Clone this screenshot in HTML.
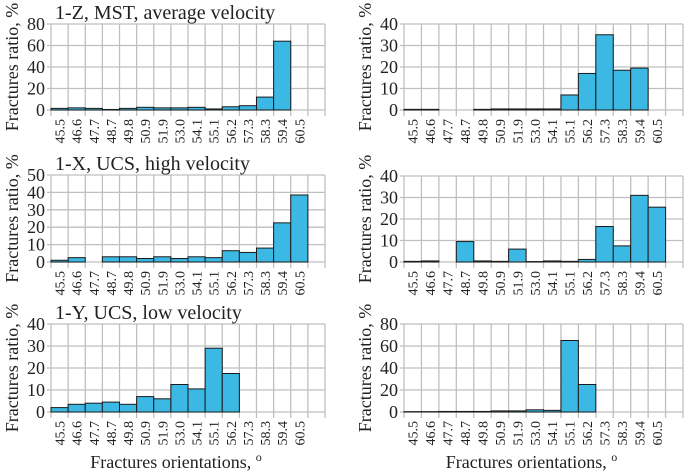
<!DOCTYPE html>
<html><head><meta charset="utf-8"><style>
body{margin:0;background:#fff}
svg{display:block;font-family:"Liberation Serif","Times New Roman",serif}
svg text{font-family:"Liberation Serif","Times New Roman",serif}
</style></head><body>
<svg id="c" width="685" height="474"></svg>
<script>
const categories=["45.5","46.6","47.7","48.7","49.8","50.9","51.9","53.0","54.1","55.1","56.2","57.3","58.3","59.4","60.5"];
const seriesZ=[1.5,2,1.5,0.5,1.5,2.5,2,2,2.5,1,3,4,12,64,0];
const seriesZr=[0.3,0.3,0,0,0.3,0.5,0.5,0.5,0.5,7,17,35,18.5,19.5,0];
const seriesX=[1,2.5,0,3,3,2,3,2,3,2.5,6.5,5.5,8,22.5,38.5];
const seriesXr=[0.3,0.5,0,9.5,0.5,0.3,6,0.2,0.5,0.3,1.2,16.5,7.5,31,25.5];
const seriesY=[2,3.5,4,4.5,3.5,7,6,12.5,10.5,29,17.5,0,0,0,0];
const seriesYr=[0.3,0.3,0.5,0.5,0.5,1,1,2,1.5,65,25,0,0,0,0];
const ticks80=[0,20,40,60,80];
const ticks50=[0,10,20,30,40,50];
const ticks40=[0,10,20,30,40];
const panels=[
 {name:"z-left",x0:51,x1:325,yTop:24,yBot:110,max:80,ticks:ticks80,data:seriesZ,title:"1-Z, MST, average velocity",xt:false},
 {name:"z-right",x0:404,x1:683,yTop:24,yBot:110,max:40,ticks:ticks40,data:seriesZr,title:"",xt:false},
 {name:"x-left",x0:51,x1:325,yTop:175,yBot:262,max:50,ticks:ticks50,data:seriesX,title:"1-X, UCS, high velocity",xt:false},
 {name:"x-right",x0:404,x1:683,yTop:176,yBot:262,max:40,ticks:ticks40,data:seriesXr,title:"",xt:false},
 {name:"y-left",x0:51,x1:325,yTop:324,yBot:412,max:40,ticks:ticks40,data:seriesY,title:"1-Y, UCS, low velocity",xt:true},
 {name:"y-right",x0:404,x1:683,yTop:324,yBot:412,max:80,ticks:ticks80,data:seriesYr,title:"",xt:true}
];
const svg=document.getElementById('c');
const NS="http://www.w3.org/2000/svg";
const FF='"Liberation Serif","Times New Roman",serif';
function mk(tag,at,parent,txt){const e=document.createElementNS(NS,tag);for(const k in at)e.setAttribute(k,at[k]);if(tag==='text')e.setAttribute('font-family',FF);if(txt!==undefined)e.textContent=txt;parent.appendChild(e);return e;}
panels.forEach(p=>{
 const g=mk('g',{},svg);
 
 
 const n=16,w=(p.x1-p.x0)/n;
 const ys=v=>p.yBot-(v/p.max)*(p.yBot-p.yTop);
 p.ticks.forEach(t=>{
  const l=mk('line',{x1:p.x0-4,x2:p.x1,y1:ys(t),y2:ys(t),stroke:'#bfbfbf','stroke-width':1.3},g);
  
  
  const tx=mk('text',{x:p.x0-6,y:ys(t)+6,'text-anchor':'end','font-size':18,fill:'#222'},g,String(t));
  
  
 });
 for(let i=0;i<=n;i++){
  const l=mk('line',{x1:p.x0+i*w,x2:p.x0+i*w,y1:p.yTop,y2:p.yBot+6,stroke:'#bfbfbf','stroke-width':1.3},g);
  
  
 }
 p.data.forEach((v,i)=>{
  if(v>0){
   const r=mk('rect',{x:p.x0+i*w,y:ys(v),width:w,height:p.yBot-ys(v),fill:'#3bb8e3',stroke:'#1a1a1a','stroke-width':1},g);
   
   
  }
 });
 categories.forEach((c,i)=>{
  const cx=p.x0+(i+0.5)*w+5, cy=p.yBot+9;
  const t=mk('text',{x:cx,y:cy,'text-anchor':'end','font-size':14,fill:'#222',transform:`rotate(-90 ${cx} ${cy})`},g,c);
  
  
 });
 const yl=(p.yTop+p.yBot)/2, lx=p.x0-33;
 const yt=mk('text',{x:lx,y:yl,'text-anchor':'middle','font-size':18,fill:'#222',transform:`rotate(-90 ${lx} ${yl})`},g,'Fractures ratio, %');
 
 
 if(p.title){
  const tt=mk('text',{x:p.x0+4,y:p.yTop-5,'font-size':20,fill:'#222'},g,p.title);
  
  
 }
 if(p.xt){
  const xt=mk('text',{x:(p.x0+p.x1)/2-12,y:468,'text-anchor':'middle','font-size':18,fill:'#222'},g,'Fractures orientations, ');
  
  
  mk('tspan',{dy:-7,'font-size':12},xt,'o');
 }
});
</script>
</body></html>
